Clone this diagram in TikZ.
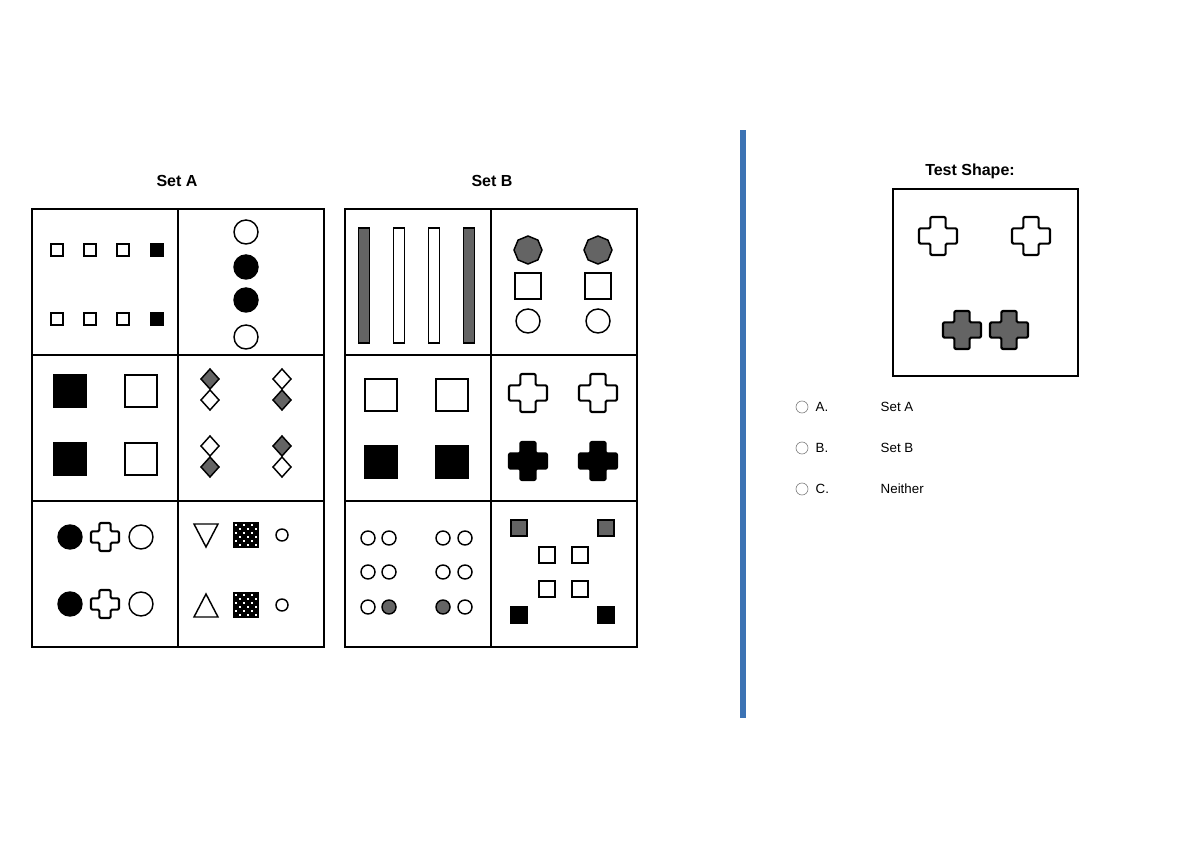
\documentclass[tikz,border=0pt]{standalone}
\usepackage{fontspec}
\setmainfont{Liberation Sans}
\usetikzlibrary{shapes.geometric}
\definecolor{sg}{RGB}{100,100,100}
\definecolor{blu}{RGB}{60,115,180}
\tikzset{
 grid/.style={line width=2.2pt},
 shp/.style={line width=1.1pt},
 ttl/.style={font=\bfseries\fontsize{12}{14}\selectfont},
 opt/.style={font=\fontsize{10}{12}\selectfont, anchor=west},
}
\newcommand\sq[4]{\draw[shp,fill=#4] (#1-#3/2,#2-#3/2) rectangle (#1+#3/2,#2+#3/2);}
\newcommand\ci[4]{\draw[shp,fill=#4] (#1,#2) circle (#3);}
\newcommand\dm[3]{\draw[shp,fill=#3] (#1,#2-10)--(#1+9,#2)--(#1,#2+10)--(#1-9,#2)--cycle;}
\newcommand\crs[4]{\draw[line width=1.6pt,fill=#4,rounded corners=1pt,line join=round]
 (#1-#3*0.4,#2-#3)--(#1+#3*0.4,#2-#3)--(#1+#3*0.4,#2-#3*0.4)--(#1+#3,#2-#3*0.4)--(#1+#3,#2+#3*0.4)--(#1+#3*0.4,#2+#3*0.4)--(#1+#3*0.4,#2+#3)--(#1-#3*0.4,#2+#3)--(#1-#3*0.4,#2+#3*0.4)--(#1-#3,#2+#3*0.4)--(#1-#3,#2-#3*0.4)--(#1-#3*0.4,#2-#3*0.4)--cycle;}
\newcommand\chk[2]{\fill (#1-13,#2-13) rectangle (#1+13,#2+13);
 \foreach \i in {0,...,5}{\foreach \j in {0,...,5}{\pgfmathtruncatemacro\p{mod(\i+\j,2)}
 \ifnum\p=0 \fill[white] (#1-11+\i*4,#2-11+\j*4) rectangle ++(2.2,2.2);\fi}}}
\begin{document}
\begin{tikzpicture}[x=0.75pt,y=-0.75pt]
\useasboundingbox (0,0) rectangle (1200,848);
% titles
\node[ttl] (ta) at (177,181) {Set A};
\node[ttl] (tb) at (492,181) {Set B};
% grids
\foreach \x in {32,345}{
 \draw[grid] (\x,209) rectangle (\x+292,647);
 \draw[grid] (\x+146,209)--(\x+146,647);
 \draw[grid] (\x,355)--(\x+292,355);
 \draw[grid] (\x,501)--(\x+292,501);}
% A11
\foreach \y in {250,319}{\foreach \x in {57,90,123}{\sq{\x}{\y}{12}{white}}\sq{157}{\y}{12}{black}}
% A12
\ci{246}{232}{12}{white}\ci{246}{267}{12}{black}\ci{246}{300}{12}{black}\ci{246}{337}{12}{white}
% A21
\foreach \y in {391,459}{\sq{70}{\y}{32}{black}\sq{141}{\y}{32}{white}}
% A22
\dm{210}{379}{sg}\dm{210}{400}{white}\dm{282}{379}{white}\dm{282}{400}{sg}
\dm{210}{446}{white}\dm{210}{467}{sg}\dm{282}{446}{sg}\dm{282}{467}{white}
% A31
\foreach \y in {537,604}{\ci{70}{\y}{12}{black}\crs{105}{\y}{14}{white}\ci{141}{\y}{12}{white}}
% A32
\draw[shp] (194,524)--(218,524)--(206,547)--cycle;
\draw[shp] (194,617)--(218,617)--(206,594)--cycle;
\chk{246}{535}\chk{246}{605}
\ci{282}{535}{6}{white}\ci{282}{605}{6}{white}
% B11
\foreach \x/\f in {364/sg,399/white,434/white,469/sg}{\draw[shp,fill=\f] (\x-5.5,228) rectangle (\x+5.5,343);}
% B12
\foreach \x in {528,598}{
 \node[regular polygon,regular polygon sides=8,draw,shp,fill=sg,minimum size=21pt,inner sep=0,shape border rotate=22.5] (o\x) at (\x,250) {};
 \sq{\x}{286}{26}{white}\ci{\x}{321}{12}{white}}
% B21
\foreach \x in {381,452}{\sq{\x}{395}{32}{white}\sq{\x}{462}{32}{black}}
% B22
\foreach \x in {528,598}{\crs{\x}{393}{19}{white}\crs{\x}{461}{19}{black}}
% B31
\foreach \y in {538,572}{\foreach \x in {368,389,443,465}{\ci{\x}{\y}{7}{white}}}
\ci{368}{607}{7}{white}\ci{389}{607}{7}{sg}\ci{443}{607}{7}{sg}\ci{465}{607}{7}{white}
% B32
\sq{519}{528}{16}{sg}\sq{606}{528}{16}{sg}
\sq{547}{555}{16}{white}\sq{580}{555}{16}{white}\sq{547}{589}{16}{white}\sq{580}{589}{16}{white}
\sq{519}{615}{16}{black}\sq{606}{615}{16}{black}
% divider
\fill[blu] (739.5,130) rectangle (745.5,718);
% test shape
\node[ttl] (tt) at (970,171) {Test Shape:};
\draw[line width=1.3pt] (893,189) rectangle (1078,376);
\crs{938}{236}{19}{white}\crs{1031}{236}{19}{white}
\crs{962}{330}{19}{sg}\crs{1009}{330}{19}{sg}
% options
\foreach \y/\l/\t in {407/A./Set A,448/B./Set B,489/C./Neither}{
 \draw[line width=0.5pt,gray] (802,\y) circle (6);
 \node[opt] at (811,\y) {\l};
 \node[opt] at (876,\y) {\t};}
\end{tikzpicture}
\end{document}
